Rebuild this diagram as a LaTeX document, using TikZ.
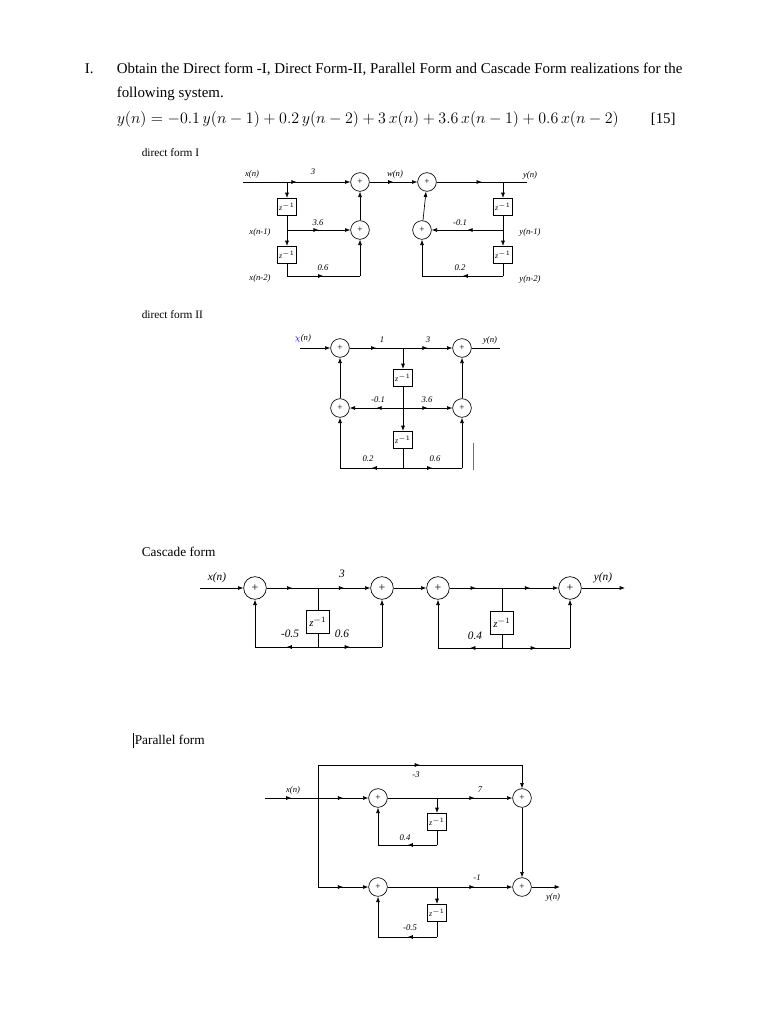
\documentclass[tikz,border=0pt]{standalone}
\usepackage{fontspec}
\setmainfont{Liberation Serif}
\usetikzlibrary{decorations.markings,arrows.meta}
\begin{document}
\begin{tikzpicture}[x=0.75pt,y=-0.75pt,
  add/.style={draw,circle,inner sep=0pt,minimum size=14pt,font=\fontsize{7}{7}\selectfont},
  addc/.style={draw,circle,inner sep=0pt,minimum size=17pt,font=\fontsize{9}{9}\selectfont},
  zb/.style={draw,inner sep=1pt,minimum width=14pt,minimum height=13pt,font=\fontsize{6}{6}\selectfont\itshape},
  zbc/.style={draw,inner sep=1pt,minimum width=17pt,minimum height=17pt,font=\fontsize{8}{8}\selectfont\itshape},
  lb/.style={font=\fontsize{6.5}{7}\selectfont\itshape,inner sep=1pt},
  lbc/.style={font=\fontsize{8.5}{9}\selectfont\itshape,inner sep=1pt},
  midarrow/.style={postaction={decorate},decoration={markings,mark=at position 0.5 with {\arrow{Latex[length=4pt,width=3pt]}}}},
  tip/.style={-{Latex[length=4pt,width=3pt]}},
  every path/.style={line width=0.5pt}]
\useasboundingbox (0,0) rectangle (768,1024);
% header
\node[anchor=west,font=\fontsize{11.2}{13}\selectfont] (h0) at (80,69) {I.};
\node[anchor=west,font=\fontsize{11.2}{13}\selectfont] (h1) at (112,69) {Obtain the Direct form -I, Direct Form-II, Parallel Form and Cascade Form realizations for the};
\node[anchor=west,font=\fontsize{11.2}{13}\selectfont] (h2) at (112,94) {following system.};
\node[anchor=west,font=\fontsize{12.1}{13}\selectfont] (h3) at (112,119) {$y(n)=-0.1\,y(n-1)+0.2\,y(n-2)+3\,x(n)+3.6\,x(n-1)+0.6\,x(n-2)$};
\node[anchor=west,font=\fontsize{11.2}{13}\selectfont] (h4) at (646,119) {[15]};
\node[anchor=west,font=\fontsize{8.5}{10}\selectfont] (t1) at (137,153) {direct form I};
\node[anchor=west,font=\fontsize{8.5}{10}\selectfont] (t2) at (137,315) {direct form II};
\node[anchor=west,font=\fontsize{10}{12}\selectfont] (t3) at (137,552) {Cascade form};
\node[anchor=west,font=\fontsize{10}{12}\selectfont] (t4) at (130,740) {Parallel form};
\draw (133,733) -- (133,748);

% ---------- direct form I
\coordinate (a0) at (243,182);
\node[add] (A1) at (360,182) {+};
\node[add] (A2) at (427,182) {+};
\coordinate (aout) at (527,182);
\coordinate (b1) at (287,182);
\node[zb] (Z1) at (287,207) {z$^{-1}$};
\coordinate (b2) at (287,230);
\node[zb] (Z2) at (287,255) {z$^{-1}$};
\coordinate (b3) at (287,276);
\node[add] (A3) at (360,230) {+};
\coordinate (c3) at (360,276);
\coordinate (r1) at (503,182);
\node[zb] (Z3) at (503,207) {z$^{-1}$};
\coordinate (r2) at (503,230);
\node[zb] (Z4) at (503,255) {z$^{-1}$};
\coordinate (r3) at (503,276);
\node[add] (A4) at (422,230) {+};
\coordinate (c4) at (422,276);
\draw[midarrow,tip] (a0) -- (A1);
\draw[tip] (b1) -- (Z1);
\draw (Z1) -- (b2);
\draw[tip] (b2) -- (Z2);
\draw (Z2) -- (b3);
\draw[midarrow,tip] (b2) -- (A3);
\draw[midarrow] (b3) -- (c3);
\draw[tip] (c3) -- (A3);
\draw[tip] (A3) -- (A1);
\draw[midarrow,tip] (A1) -- (A2);
\draw[midarrow] (A2) -- (aout);
\draw[tip] (r1) -- (Z3);
\draw (Z3) -- (r2);
\draw[tip] (r2) -- (Z4);
\draw (Z4) -- (r3);
\draw[midarrow,tip] (r2) -- (A4);
\draw[midarrow] (r3) -- (c4);
\draw[tip] (c4) -- (A4);
\draw[tip] (A4) -- (A2);
\node[lb] (l1) at (252,174) {x(n)};
\node[lb] (l2) at (313,172) {3};
\node[lb] (l3) at (395,174) {w(n)};
\node[lb] (l4) at (530,175) {y(n)};
\node[lb] (l5) at (260,232) {x(n-1)};
\node[lb] (l6) at (260,278) {x(n-2)};
\node[lb] (l7) at (318,223) {3.6};
\node[lb] (l8) at (323,268) {0.6};
\node[lb] (l9) at (460,223) {-0.1};
\node[lb] (l10) at (460,268) {0.2};
\node[lb] (l11) at (530,232) {y(n-1)};
\node[lb] (l12) at (530,279) {y(n-2)};

% ---------- direct form II
\coordinate (d0) at (300,348);
\node[add] (D1) at (340,348) {+};
\node[add] (D2) at (462,348) {+};
\coordinate (dout) at (500,348);
\coordinate (e1) at (403,348);
\node[zb] (Z5) at (403,378) {z$^{-1}$};
\coordinate (e2) at (403,408);
\node[zb] (Z6) at (403,440) {z$^{-1}$};
\coordinate (e3) at (403,468);
\node[add] (D3) at (340,408) {+};
\node[add] (D4) at (462,408) {+};
\coordinate (f3) at (340,468);
\coordinate (g3) at (462,468);
\draw[tip] (d0) -- (D1);
\draw[midarrow] (D1) -- (e1);
\draw[midarrow,tip] (e1) -- (D2);
\draw (D2) -- (dout);
\draw[tip] (e1) -- (Z5);
\draw (Z5) -- (e2);
\draw[tip] (e2) -- (Z6);
\draw (Z6) -- (e3);
\draw[midarrow,tip] (e2) -- (D3);
\draw[midarrow,tip] (e2) -- (D4);
\draw[midarrow] (e3) -- (f3);
\draw[midarrow] (e3) -- (g3);
\draw[tip] (f3) -- (D3);
\draw[tip] (g3) -- (D4);
\draw[tip] (D3) -- (D1);
\draw[tip] (D4) -- (D2);
\node[lb,anchor=west] (m1) at (293,338) {\textcolor{blue}{$\chi$}(n)};
\node[lb] (m2) at (382,340) {1};
\node[lb] (m3) at (428,340) {3};
\node[lb] (m4) at (490,340) {y(n)};
\node[lb] (m5) at (378,400) {-0.1};
\node[lb] (m6) at (427,400) {3.6};
\node[lb] (m7) at (368,459) {0.2};
\node[lb] (m8) at (435,459) {0.6};
\draw[red!80] (473,443) -- (473,470);

% ---------- cascade
\coordinate (k0) at (200,588);
\node[addc] (C1) at (255,588) {+};
\node[addc] (C2) at (382,588) {+};
\node[addc] (C3) at (438,588) {+};
\node[addc] (C4) at (570,588) {+};
\coordinate (kout) at (625,588);
\coordinate (p1) at (318,588);
\node[zbc] (Z7) at (318,622) {z$^{-1}$};
\coordinate (p2) at (318,647);
\coordinate (q1) at (255,647);
\coordinate (q2) at (382,647);
\coordinate (s1) at (502,588);
\node[zbc] (Z8) at (502,623) {z$^{-1}$};
\coordinate (s2) at (502,648);
\coordinate (u1) at (438,648);
\coordinate (u2) at (570,648);
\draw[tip] (k0) -- (C1);
\draw[midarrow] (C1) -- (p1);
\draw[midarrow,tip] (p1) -- (C2);
\draw[tip] (C2) -- (C3);
\draw[midarrow] (C3) -- (s1);
\draw[midarrow,tip] (s1) -- (C4);
\draw[tip] (C4) -- (kout);
\draw (p1) -- (Z7) -- (p2);
\draw[midarrow] (p2) -- (q1);
\draw[midarrow] (p2) -- (q2);
\draw[tip] (q1) -- (C1);
\draw[tip] (q2) -- (C2);
\draw (s1) -- (Z8) -- (s2);
\draw[midarrow] (s2) -- (u1);
\draw[midarrow] (s2) -- (u2);
\draw[tip] (u1) -- (C3);
\draw[tip] (u2) -- (C4);
\node[lbc] (n1) at (217,578) {x(n)};
\node[lbc] (n2) at (342,574) {3};
\node[lbc] (n3) at (290,634) {-0.5};
\node[lbc] (n4) at (342,634) {0.6};
\node[lbc] (n5) at (475,636) {0.4};
\node[lbc] (n6) at (603,578) {y(n)};

% ---------- parallel
\coordinate (v0) at (265,798);
\coordinate (v1) at (318,765);
\coordinate (v2) at (522,765);
\coordinate (v3) at (318,887);
\coordinate (vx) at (318,798);
\node[add] (P1) at (522,798) {+};
\node[add] (P2) at (522,887) {+};
\node[add] (Q1) at (378,798) {+};
\node[add] (Q2) at (378,887) {+};
\coordinate (vout) at (560,887);
\coordinate (w1) at (437,798);
\node[zb] (Z9) at (437,822) {z$^{-1}$};
\coordinate (w2) at (437,845);
\coordinate (w3) at (378,845);
\coordinate (y1) at (437,887);
\node[zb] (Z10) at (437,913) {z$^{-1}$};
\coordinate (y2) at (437,937);
\coordinate (y3) at (378,937);
\draw[midarrow] (v0) -- (vx);
\draw[midarrow,tip] (vx) -- (Q1);
\draw (v3) -- (v1);
\draw[midarrow] (v1) -- (v2);
\draw[tip] (v2) -- (P1);
\draw[midarrow,tip] (v3) -- (Q2);
\draw (Q1) -- (w1);
\draw[midarrow,tip] (w1) -- (P1);
\draw[tip] (w1) -- (Z9);
\draw (Z9) -- (w2);
\draw[midarrow] (w2) -- (w3);
\draw[tip] (w3) -- (Q1);
\draw (Q2) -- (y1);
\draw[midarrow,tip] (y1) -- (P2);
\draw[tip] (y1) -- (Z10);
\draw (Z10) -- (y2);
\draw[midarrow] (y2) -- (y3);
\draw[tip] (y3) -- (Q2);
\draw[tip] (P1) -- (P2);
\draw[tip] (P2) -- (vout);
\node[lb] (o1) at (293,790) {x(n)};
\node[lb] (o2) at (416,775) {-3};
\node[lb] (o3) at (480,790) {7};
\node[lb] (o4) at (405,838) {0.4};
\node[lb] (o5) at (477,878) {-1};
\node[lb] (o6) at (410,928) {-0.5};
\node[lb] (o7) at (553,897) {y(n)};
\end{tikzpicture}
\end{document}
